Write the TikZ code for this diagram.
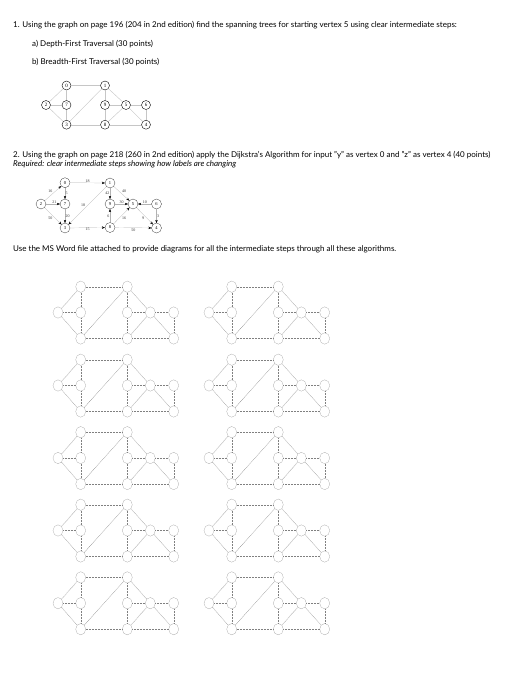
\documentclass[tikz,border=0pt]{standalone}
\usepackage{fontspec}
\setmainfont{Lato}
\newfontfamily\labelfont{Liberation Serif}
\usetikzlibrary{positioning,arrows.meta,shapes.geometric}

\tikzset{
  txt/.style={anchor=west,inner sep=0pt,font=\fontsize{8}{8}\selectfont},
  vtx/.style={circle,draw,thin,inner sep=0pt,minimum size=9pt,font=\labelfont\fontsize{5}{5}\selectfont},
  edg/.style={gray!45,thin},
  wvtx/.style={circle,draw,very thin,inner sep=0pt,minimum size=10pt,font=\labelfont\fontsize{4.5}{5}\selectfont},
  wedg/.style={gray!60,very thin,-{Stealth[length=3pt,width=2.4pt,black]}},
  wlbl/.style={inner sep=0.5pt,text=black!80,font=\labelfont\fontsize{4}{4}\selectfont},
  bvtx/.style={ellipse,draw=gray!80,very thin,inner sep=0pt,minimum width=10pt,minimum height=11.4pt},
  bedg/.style={black!50,line width=0.35pt,dash pattern=on 0.8pt off 0.7pt}
}

\begin{document}
\begin{tikzpicture}[x=1pt,y=-1pt]
        \useasboundingbox (0,0) rectangle (505,683);
        \fill[white] (0,0) rectangle (505,683);
        % Question 1
        \node[txt] (q1) at (13,25) {1. Using the graph on page 196 (204 in 2nd edition) find the spanning trees for starting vertex 5 using clear intermediate steps:};
        \node[txt] (q1a) at (32,44) {a) Depth-First Traversal (30 points)};
        \node[txt] (q1b) at (32,62.5) {b) Breadth-First Traversal (30 points)};
        % Undirected graph
        \node[vtx] (u0) at (66.5,85.5) {0};
        \node[vtx] (u1) at (105,85.5) {1};
        \node[vtx] (u2) at (46,105) {2};
        \node[vtx] (u7) at (66.5,105) {7};
        \node[vtx] (u9) at (105,105) {9};
        \node[vtx] (u5) at (126,105) {5};
        \node[vtx] (u6) at (146,105) {6};
        \node[vtx] (u3) at (66.5,124.7) {3};
        \node[vtx] (u8) at (105,124.7) {8};
        \node[vtx] (u4) at (146,124.7) {4};
        \foreach \a/\b in {0/1,0/2,0/7,2/7,2/3,7/3,3/1,3/8,1/9,1/5,9/5,9/8,8/5,5/6,5/4,6/4,8/4}
          \draw[edg] (u\a) -- (u\b);
        % Question 2
        \node[txt] (q2) at (13,155.5) {2. Using the graph on page 218 (260 in 2nd edition) apply the Dijkstra's Algorithm for input "y" as vertex 0 and "z" as vertex 4 (40 points)};
        \node[txt,font=\fontsize{8}{8}\selectfont\itshape] (q2r) at (13,164.3) {Required: clear intermediate steps showing how labels are changing};
        % Weighted digraph
        \node[wvtx] (w2) at (41,204) {2};
        \node[wvtx] (w0) at (65,182.7) {0};
        \node[wvtx] (w7) at (65,204) {7};
        \node[wvtx] (w3) at (65,228) {3};
        \node[wvtx] (w1) at (110,183) {1};
        \node[wvtx] (w9) at (110,204) {9};
        \node[wvtx] (w8) at (110,227.5) {8};
        \node[wvtx] (w5) at (133,204) {5};
        \node[wvtx] (w6) at (156.5,204) {6};
        \node[wvtx] (w4) at (156.5,228) {4};
        \draw[wedg] (w2) -- node[wlbl,above left] {16} (w0);
        \draw[wedg] (w2) -- node[wlbl,above=-0.5pt,pos=0.6] {21} (w7);
        \draw[wedg] (w2) -- node[wlbl,below left] {50} (w3);
        \draw[wedg] (w0) -- node[wlbl,above] {18} (w1);
        \draw[wedg] (w0) -- node[wlbl,right] {5} (w7);
        \draw[wedg] (w7) -- node[wlbl,right] {20} (w3);
        \draw[wedg] (w1) -- node[wlbl,above left,pos=0.55] {18} (w3);
        \draw[wedg] (w1) -- node[wlbl,above right] {40} (w5);
        \draw[wedg] (w1) -- node[wlbl,left] {42} (w9);
        \draw[wedg] (w9) -- node[wlbl,above] {30} (w5);
        \draw[wedg] (w8) -- node[wlbl,left] {6} (w9);
        \draw[wedg] (w8) -- node[wlbl,below right] {16} (w5);
        \draw[wedg] (w6) -- node[wlbl,above] {10} (w5);
        \draw[wedg] (w5) -- node[wlbl,below left] {9} (w4);
        \draw[wedg] (w6) -- node[wlbl,right] {3} (w4);
        \draw[wedg] (w3) -- node[wlbl,below] {15} (w8);
        \draw[wedg] (w8) -- node[wlbl,below] {50} (w4);
        % Instructions
        \node[txt] (q3) at (13,249.3) {Use the MS Word file attached to provide diagrams for all the intermediate steps through all these algorithms.};
        % Blank copies for the steps
        \foreach \col/\dx in {L/0,R/151}{
          \foreach \row/\dy in {1/0,2/73,3/145.5,4/218,5/290.7}{
            \begin{scope}[shift={(\dx,\dy)}]
              \node[bvtx] (\col\row-0) at (80.7,286.7) {};
              \node[bvtx] (\col\row-1) at (127.3,286.7) {};
              \node[bvtx] (\col\row-2) at (58,312.5) {};
              \node[bvtx] (\col\row-7) at (80.7,312.5) {};
              \node[bvtx] (\col\row-9) at (127.3,312.5) {};
              \node[bvtx] (\col\row-5) at (150.3,312.5) {};
              \node[bvtx] (\col\row-6) at (173.7,312.5) {};
              \node[bvtx] (\col\row-3) at (80.7,338.5) {};
              \node[bvtx] (\col\row-8) at (127.3,338.5) {};
              \node[bvtx] (\col\row-4) at (173.7,338.5) {};
              \foreach \a/\b in {0/1,0/2,0/7,2/7,2/3,7/3,3/1,3/8,1/9,1/5,9/5,9/8,8/5,5/6,5/4,6/4,8/4}
                \draw[bedg] (\col\row-\a) -- (\col\row-\b);
            \end{scope}
          }
        }
\end{tikzpicture}
\end{document}
